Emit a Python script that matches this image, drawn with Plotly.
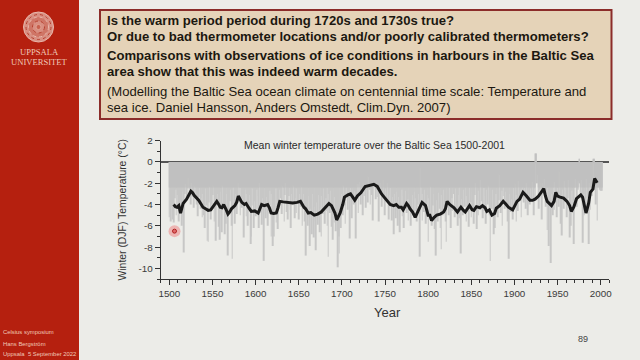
import plotly.graph_objects as go

# Annual winter temperature, one row per decade, 1500-2001
winter_temp = [
 -5.2,-4.9,-5.6,-4.2,-5.4,-5.7,-3.4,-2.6,-5.0,-4.4,
 -3.1,-5.6,-4.9,-3.6,-6.0,-2.8,-5.2,-8.5,-3.0,-2.1,
 -3.6,-2.5,-1.5,-3.1,-2.4,-4.0,-2.0,-3.3,-4.3,-2.2,
 -3.0,-2.7,-4.0,-5.1,-3.3,-2.4,-4.4,-3.4,-5.2,-3.0,
 -5.0,-6.2,-2.5,-4.1,-7.4,-7.5,-3.8,-2.3,-5.4,-4.0,
 -3.1,-2.2,-5.6,-4.4,-7.4,-4.0,-3.0,-6.1,-7.3,-2.8,
 -4.2,-6.6,-2.2,-3.9,-6.8,-5.8,-3.0,-2.1,-8.8,-4.6,
 -3.7,-2.6,-6.0,-9.1,-4.2,-2.1,-5.8,-3.0,-4.9,-3.2,
 -2.0,-3.8,-5.0,-2.4,-4.3,-3.4,-7.1,-4.0,-2.6,-5.1,
 -3.0,-6.0,-4.2,-3.1,-7.7,-7.0,-4.1,-2.5,-6.2,-3.7,
 -5.1,-2.6,-4.4,-3.2,-6.2,-2.0,-4.8,-5.9,-3.4,-9.3,
 -4.0,-2.5,-5.3,-3.3,-6.0,-4.5,-2.7,-4.1,-7.0,-3.0,
 -7.9,-7.0,-4.5,-2.5,-5.7,-3.6,-6.3,-4.2,-2.6,-3.4,
 -4.9,-2.2,-3.8,-5.6,-3.1,-2.0,-4.7,-5.4,-3.2,-2.4,
 -4.5,-6.2,-3.0,-4.0,-2.2,-5.3,-3.4,-4.8,-2.5,-3.7,
 -5.4,-3.0,-4.2,-2.3,-6.0,-4.1,-3.0,-5.6,-8.8,-4.4,
 -6.0,-3.2,-5.3,-7.9,-4.4,-6.8,-3.0,-7.1,-4.2,-5.6,
 -8.3,-3.8,-5.9,-3.1,-6.6,-4.3,-7.0,-3.2,-4.9,-2.5,
 -5.8,-3.4,-4.6,-6.0,-8.9,-3.0,-4.8,-2.7,-6.1,-7.3,
 -4.2,-5.7,-3.3,-6.5,-5.0,-9.9,-7.0,-8.6,-4.5,-6.2,
 -3.0,-5.0,-2.2,-4.1,-5.8,-3.0,-2.0,-4.5,-3.4,-7.2,
 -2.4,-5.3,-3.1,-2.2,-4.0,-2.7,-7.2,-3.3,-2.1,-4.8,
 -3.0,-1.9,-4.0,-2.4,-5.0,-2.0,-3.2,-1.5,-4.3,-2.6,
 -3.8,-1.4,-2.6,-4.0,-1.9,-3.1,-5.5,-2.2,-1.7,-3.5,
 -2.0,-3.3,-1.6,-5.6,-2.9,-2.0,-4.2,-3.2,-1.7,-3.6,
 -5.0,-2.5,-3.6,-2.0,-5.4,-3.1,-4.2,-2.4,-5.5,-3.3,
 -6.8,-3.0,-5.3,-2.8,-4.6,-6.0,-3.3,-6.6,-4.2,-2.6,
 -5.1,-3.2,-6.2,-4.0,-2.7,-4.8,-3.5,-5.5,-3.0,-4.2,
 -6.0,-4.4,-3.1,-5.0,-2.8,-4.6,-3.4,-5.6,-4.0,-3.0,
 -8.9,-0.6,-4.2,-5.5,-3.0,-4.7,-2.6,-5.8,-4.0,-3.1,
 -7.5,-3.4,-5.1,-2.3,-6.0,-4.1,-3.0,-5.4,-6.3,-8.8,
 -3.6,-5.6,-2.9,-4.4,-6.2,-8.2,-3.1,-5.0,-2.6,-4.2,
 -5.6,-7.5,-0.8,-3.8,-5.0,-2.4,-6.2,-3.4,-4.6,-1.6,
 -3.0,-5.2,-2.5,-4.4,-6.0,-3.1,-5.3,-2.1,-8.6,-3.5,
 -5.0,-2.6,-4.2,-1.2,-5.6,-3.2,-4.7,-6.1,-2.4,-3.8,
 -5.2,-2.8,-4.3,-5.8,-3.1,-2.0,-6.3,-3.6,-5.0,-2.7,
 -4.4,-1.7,-3.7,-5.3,-2.4,-4.6,-3.2,-5.8,-2.6,-4.0,
 -2.2,-5.0,-9.3,-3.4,-4.4,-2.6,-6.8,-6.2,-3.0,-4.6,
 -2.5,-5.2,-3.6,-1.2,-4.8,-2.7,-6.0,-3.2,-1.9,-4.4,
 -2.8,-4.0,-5.6,-9.1,-3.0,-2.1,-4.7,-3.5,-5.4,-2.4,
 -4.2,-2.0,-5.6,-3.1,-4.6,-1.8,-3.4,-2.6,-5.2,-3.0,
 -1.8,-3.8,-2.4,-4.4,-2.0,-5.0,-3.0,-1.6,-4.0,-2.5,
 -3.4,-1.9,-5.0,-2.5,-3.2,+0.8,-2.0,-1.2,-4.4,-2.6,
 -1.9,-3.4,-5.4,-2.0,-3.0,-1.6,-4.2,-3.0,-6.4,-2.4,
 -7.9,-3.6,-9.5,-3.0,-5.0,-2.2,-4.5,-1.9,-3.2,-5.2,
 -2.4,-4.2,-0.9,-3.0,-5.8,-6.9,-2.6,-4.4,-1.8,-3.6,
 -2.6,-5.2,-3.4,-1.7,-7.1,-6.0,-2.7,-4.5,-3.4,-7.7,
 -2.4,-1.6,-4.2,-2.6,-1.8,+0.3,-2.0,-3.4,-1.7,-7.6,
 -3.0,-5.0,-2.2,-4.6,-1.6,-3.4,-7.7,-2.0,-4.5,-1.5,
 -3.2,-1.6,+0.3,-2.6,-4.0,-1.5,-5.5,-2.4,-2.0,-2.6,
 -2.7,-2.7,
]
years = list(range(1500, 1500 + len(winter_temp)))

# Smoothed curve
smooth_years = [1505,1507,1509,1511,1513,1516,1520,1523,1525,1527,1529,1534,1539,1542,1545,1548,1550,1553,1555,1557,1559,1561,1563,1566,1568,1570,1572,1576,1578,1580,1582,1584,1587,1589,1592,1595,1599,1603,1605,1607,1610,1614,1616,1618,1621,1624,1626,1628,1632,1636,1640,1643,1648,1652,1656,1658,1661,1664,1668,1672,1676,1680,1685,1688,1690,1692,1694,1698,1701,1703,1707,1710,1713,1715,1718,1722,1727,1732,1737,1741,1744,1746,1749,1752,1756,1760,1763,1766,1769,1771,1775,1777,1779,1782,1785,1789,1793,1797,1800,1802,1804,1807,1810,1814,1818,1820,1822,1825,1827,1830,1834,1838,1841,1843,1848,1851,1853,1856,1860,1863,1866,1868,1871,1874,1877,1879,1883,1887,1890,1893,1898,1903,1906,1910,1914,1918,1921,1924,1928,1932,1934,1936,1938,1943,1946,1948,1950,1953,1957,1961,1964,1966,1969,1972,1977,1979,1981,1983,1986,1988,1991,1993,1996]
smooth_vals = [-4.0,-4.2,-4.25,-4.1,-4.8,-3.9,-3.5,-3.0,-2.75,-2.9,-3.15,-3.6,-4.25,-4.4,-4.55,-4.5,-4.25,-3.9,-3.7,-3.95,-4.25,-4.3,-4.0,-4.5,-4.9,-4.7,-4.4,-4.1,-3.8,-3.2,-3.5,-3.8,-4.0,-3.9,-4.3,-4.65,-4.6,-4.8,-4.4,-4.0,-4.1,-4.0,-4.3,-4.8,-4.85,-4.8,-4.3,-3.7,-3.75,-3.8,-3.85,-3.85,-3.8,-3.7,-4.25,-4.4,-4.8,-4.75,-5.0,-4.9,-4.7,-4.35,-3.9,-4.1,-4.4,-4.8,-5.45,-4.8,-4.0,-3.3,-3.1,-3.0,-3.35,-3.6,-3.2,-2.9,-2.3,-2.2,-2.1,-2.3,-2.75,-3.0,-3.3,-3.6,-4.0,-4.1,-4.0,-4.25,-4.25,-4.5,-3.9,-4.1,-4.4,-4.7,-5.2,-4.5,-3.8,-4.1,-5.0,-5.0,-5.5,-5.2,-5.0,-4.9,-4.7,-4.4,-3.7,-4.0,-4.1,-4.3,-4.7,-4.25,-4.55,-4.7,-4.1,-4.5,-4.55,-4.2,-4.3,-4.1,-4.3,-4.65,-4.5,-5.0,-4.85,-4.35,-4.1,-3.7,-3.95,-4.25,-4.5,-3.7,-3.5,-2.85,-3.2,-3.6,-3.6,-3.5,-3.2,-2.7,-2.5,-3.2,-3.7,-4.1,-3.7,-2.85,-3.2,-3.3,-3.4,-3.7,-4.1,-4.65,-4.2,-3.45,-3.1,-3.3,-4.0,-4.8,-3.9,-2.85,-2.55,-1.55,-1.95]

marker_year = [1506]
marker_value = [-6.5]
upper_limit = -2.4

title_text = "Mean winter temperature over the Baltic Sea 1500-2001"
y_title = "Winter (DJF) Temperature (°C)"
x_title = "Year"
x_ticks = [1500,1550,1600,1650,1700,1750,1800,1850,1900,1950,2000]
y_ticks = [2,0,-2,-4,-6,-8,-10]
box_lines = [
 ("<b>Is the warm period period during 1720s and 1730s true?</b>", 20.7),
 ("<b>Or due to bad thermometer locations and/or poorly calibrated thermometers?</b>", 37),
 ("<b>Comparisons with observations of ice conditions in harbours in the Baltic Sea</b>", 55.7),
 ("<b>area show that this was indeed warm decades.</b>", 71.7),
 ("(Modelling the Baltic Sea ocean climate on centennial time scale: Temperature and", 91),
 ("sea ice. Daniel Hansson, Anders Omstedt, Clim.Dyn. 2007)", 107),
]
footer_lines = [("Celsius symposium", 332), ("Hans Bergström", 343.5), ("Uppsala  5 September 2022", 354)]

W, H = 640, 360
px = lambda v: v / W
py = lambda v: 1 - v / H

fig = go.Figure()
fig.add_bar(x=years, y=winter_temp, marker=dict(color="#c7c7c6", line_width=0), width=0.85, showlegend=False)
fig.add_bar(x=years, y=[max(v, upper_limit) for v in winter_temp], marker=dict(color="#c1c1c0", line_width=0), width=0.95, showlegend=False)
fig.add_scatter(x=smooth_years, y=smooth_vals, mode="lines", line=dict(color="#1a1a1a", width=3), showlegend=False)
fig.add_scatter(x=marker_year, y=marker_value, mode="markers",
                marker=dict(size=12, color="rgba(240,100,100,0.4)", line=dict(width=0)), showlegend=False)
fig.add_scatter(x=marker_year, y=marker_value, mode="markers",
                marker=dict(size=4, color="#e06a6a", line=dict(color="#b02020", width=1)), showlegend=False)

shapes = [
 dict(type="rect", xref="paper", yref="paper", x0=0, x1=px(79), y0=0, y1=1, fillcolor="#b5200f", line_width=0, layer="below"),
 dict(type="rect", xref="paper", yref="paper", x0=px(100), x1=px(611.5), y0=py(119), y1=py(10),
      fillcolor="#e5d3b8", line=dict(color="#8b2c2a", width=2), layer="below"),
]
# University seal
for r, fill, col, dash in [(15, "#d98f82", "#e8b8ac", "solid"), (12.5, "#d98f82", "#b5402f", "dot"),
                           (10, "#cf7566", "#e8b8ac", "dot"), (6, "#d98f82", "#b5402f", "dot"), (2.5, "#c8604e", "#e0a090", "solid")]:
    shapes.append(dict(type="circle", xref="paper", yref="paper", x0=px(38.5 - r), x1=px(38.5 + r),
                       y0=py(27 + r), y1=py(27 - r), fillcolor=fill, line=dict(color=col, width=1, dash=dash), layer="below"))

ann = []
def text(x, y, s, size, color, anchor="left", family="Liberation Sans", angle=0):
    ann.append(dict(x=px(x), y=py(y), xref="paper", yref="paper", text=s, showarrow=False, xanchor=anchor,
                    yanchor="middle", textangle=angle, align="left", font=dict(size=size, color=color, family=family),
                    borderpad=0))
for s, y in box_lines:
    text(105.5, y, s, 13.1, "#1c1810")
for s, y in footer_lines:
    text(2, y, s, 5.9, "#f0c8b8")
text(39, 52, "UPPSALA", 8.6, "#f0c8b8", "center", "Liberation Serif")
text(39, 62, "UNIVERSITET", 8.6, "#f0c8b8", "center", "Liberation Serif")
text(374, 145, title_text, 10.5, "#2a2a2a", "center")
text(121.5, 210, y_title, 10.4, "#333333", "center", angle=-90)
text(387, 312.5, x_title, 13, "#333333", "center")
text(583, 339, "89", 9, "#444444", "center")

fig.update_layout(
    width=W, height=H, autosize=False, barmode="overlay",
    margin=dict(l=0, r=0, t=0, b=0, pad=0, autoexpand=False),
    paper_bgcolor="#ecece8", plot_bgcolor="rgba(0,0,0,0)",
    shapes=shapes, annotations=ann,
    font=dict(family="Liberation Sans", color="#3a3a3a", size=10),
)
fig.update_xaxes(domain=[160.7 / W, 609.3 / W], range=[1490, 2010], tickmode="array", tickvals=x_ticks,
                 ticktext=[str(t) for t in x_ticks], ticks="outside", ticklen=5, tickcolor="#333",
                 showgrid=False, showline=True, linecolor="#333", linewidth=1, zeroline=False,
                 minor=dict(ticks="outside", ticklen=3, dtick=10, tick0=1500, tickcolor="#333", showgrid=False),
                 tickfont=dict(size=9.8))
fig.update_yaxes(domain=[1 - 279 / H, 1 - 140.7 / H], range=[-11, 2], tickmode="array", tickvals=y_ticks,
                 ticktext=[str(t) for t in y_ticks], ticks="outside", ticklen=5, tickcolor="#333",
                 showgrid=False, showline=True, linecolor="#333", linewidth=1, zeroline=True, zerolinecolor="#555", zerolinewidth=1.5,
                 minor=dict(ticks="outside", ticklen=3, dtick=1, tick0=0, tickcolor="#333", showgrid=False),
                 tickfont=dict(size=9.8))

fig.write_html("out.html", config=dict(displayModeBar=False),
               post_script="document.documentElement.style.margin='0';document.body.style.margin='0';document.body.style.background='#ecece8';"
                           "var g=document.querySelector('.plotly-graph-div');g.style.position='fixed';g.style.top='0';g.style.left='0';")
